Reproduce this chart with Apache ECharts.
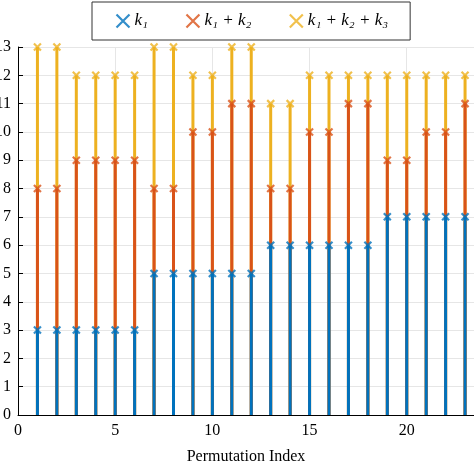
<!DOCTYPE html><html><head><meta charset="utf-8"><script src="https://cdn.jsdelivr.net/npm/echarts@6/dist/echarts.min.js"></script>
<style>html,body{margin:0;padding:0;background:#fff}#c{width:474px;height:474px}</style></head><body><div id="c"></div>
<script>
const idx=[1,2,3,4,5,6,7,8,9,10,11,12,13,14,15,16,17,18,19,20,21,22,23];
const k1=[3,3,3,3,3,3,5,5,5,5,5,5,6,6,6,6,6,6,7,7,7,7,7];
const k12=[8,8,9,9,9,9,8,8,10,10,11,11,8,8,10,10,11,11,9,9,10,10,11];
const k123=[13,13,12,12,12,12,13,13,12,12,13,13,11,11,12,12,12,12,12,12,12,12,12];
const C=['#0072BD','#D95319','#EDB120'];
const X='path://M0,0L10,10M10,0L0,10';
const bar=(v,c)=>({type:'bar',data:idx.map((x,i)=>[x,v[i]]),barWidth:3,barGap:'-100%',itemStyle:{color:c},silent:true});
const mk=(name,v,c)=>({name,type:'scatter',data:idx.map((x,i)=>[x,v[i]]),symbol:X,symbolSize:7,itemStyle:{color:'none',borderColor:c,borderWidth:2.2},z:5});
echarts.init(document.getElementById('c')).setOption({
 animation:false,
 textStyle:{fontFamily:'Liberation Serif'},
 legend:{top:2,left:92,borderColor:'#333',borderWidth:1,padding:[10,22],itemGap:36,itemWidth:13,itemHeight:13,
  textStyle:{fontSize:17,fontStyle:'italic',fontFamily:'Liberation Serif',color:'#000'},
  formatter:n=>({a:'k₁',b:'k₁ + k₂',c:'k₁ + k₂ + k₃'})[n],
  data:[{name:'a',icon:X,itemStyle:{color:'none',borderColor:C[0],borderWidth:2.2}},{name:'b',icon:X,itemStyle:{color:'none',borderColor:C[1],borderWidth:2.2}},{name:'c',icon:X,itemStyle:{color:'none',borderColor:C[2],borderWidth:2.2}}]},
 grid:{left:18,right:0,top:47,bottom:59,containLabel:false,outerBoundsMode:'none'},
 xAxis:{type:'value',min:0,max:23.46,interval:5,name:'Permutation Index',nameLocation:'middle',nameGap:34,
  nameTextStyle:{fontSize:16,color:'#000'},axisLabel:{fontSize:16,color:'#000',showMaxLabel:false},
  axisLine:{lineStyle:{color:'#000'}},axisTick:{inside:true,lineStyle:{color:'#000'}},splitLine:{show:true,lineStyle:{color:'#e6e6e6'}}},
 yAxis:{type:'value',min:0,max:13,interval:1,axisLabel:{fontSize:16,color:'#000',margin:7},
  axisLine:{show:true,lineStyle:{color:'#000'}},axisTick:{show:true,inside:true,lineStyle:{color:'#000'}},splitLine:{lineStyle:{color:'#e6e6e6'}}},
 series:[bar(k123,C[2]),bar(k12,C[1]),bar(k1,C[0]),
  mk('a',k1,C[0]),mk('b',k12,C[1]),mk('c',k123,C[2])]
});
</script></body></html>
